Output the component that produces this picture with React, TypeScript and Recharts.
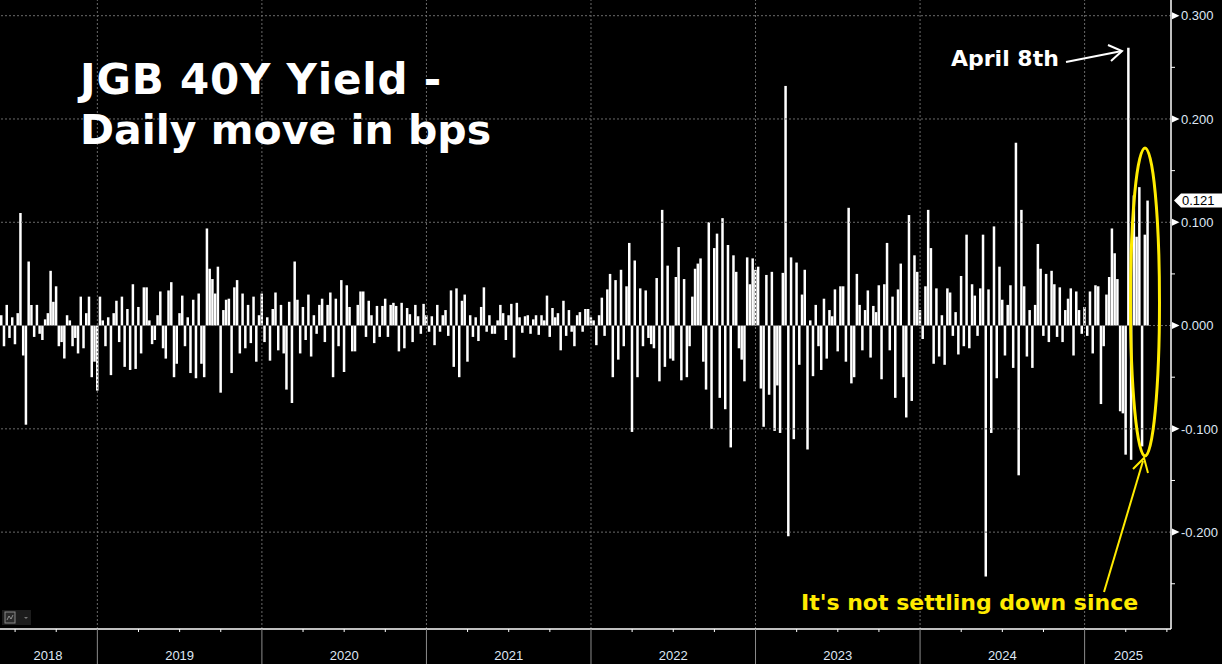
import React from 'react';
import { BarChart, Bar, XAxis, YAxis, ReferenceLine } from 'recharts';

// Daily move of the JGB 40Y yield (~5 samples per month)
const y2018 = [0.01, -0.02, 0.02, -0.012, 0.008, -0.018, 0.012, 0.109, -0.029, -0.096, 0.062, 0.02, -0.011, 0.02, -0.008, -0.014, 0.006, 0.012, 0.053, 0.023, 0.038, -0.02, -0.016, -0.032, 0.01, 0.005, -0.02, -0.012, -0.027, 0.028, -0.022, 0.012, 0.028, -0.05, -0.035];
const y2019 = [-0.063, 0.028, 0.005, -0.02, 0.008, -0.048, 0.012, 0.024, -0.016, 0.028, -0.04, 0.016, -0.043, 0.04, -0.042, 0.018, -0.027, 0.037, 0.037, 0.005, -0.018, -0.014, 0.01, 0.033, -0.022, -0.032, 0.034, 0.042, -0.05, -0.037, 0.012, 0.029, -0.02, 0.008, -0.046, 0.025, -0.051, 0.031, -0.037, -0.05, 0.094, 0.055, 0.045, 0.031, 0.057, -0.065, 0.015, 0.025, 0.026, -0.046, 0.037, 0.044, -0.027, 0.031, -0.022, 0.02, -0.017, 0.028, -0.035, 0.01];
const y2020 = [0.031, -0.016, 0.008, -0.034, 0.016, 0.032, -0.024, 0.02, -0.027, -0.062, 0.023, -0.075, 0.062, 0.025, -0.027, 0.018, -0.014, 0.03, -0.03, 0.01, -0.008, 0.02, 0.026, -0.016, 0.02, 0.032, -0.05, 0.026, -0.02, 0.044, -0.045, 0.039, 0.018, -0.025, -0.025, 0.02, 0.033, 0.033, -0.011, 0.024, 0.01, -0.017, 0.019, -0.011, 0.019, 0.026, -0.011, 0.02, 0.022, 0.019, -0.025, 0.022, -0.022, 0.017, 0.011, -0.016, 0.02, 0.009, -0.008, 0.021];
const y2021 = [0.01, -0.006, 0.009, -0.019, 0.02, -0.006, 0.01, 0.015, -0.01, 0.034, -0.04, 0.036, -0.05, 0.024, 0.03, -0.035, 0.01, -0.011, 0.008, -0.015, 0.018, 0.037, -0.006, 0.01, -0.008, -0.008, 0.005, 0.02, 0.012, -0.014, 0.01, 0.021, -0.031, 0.022, 0.008, -0.007, 0.009, 0.01, -0.008, 0.006, 0.01, -0.009, 0.01, 0.005, 0.029, -0.011, 0.017, 0.008, 0.012, -0.024, 0.024, -0.01, 0.015, -0.006, -0.02, 0.01, 0.013, -0.006, 0.016, 0.016];
const y2022 = [0.008, 0.005, -0.019, 0.01, 0.027, -0.01, 0.035, 0.05, -0.05, 0.044, -0.033, 0.054, -0.02, 0.038, 0.08, -0.103, 0.063, -0.05, 0.036, -0.02, 0.034, -0.012, -0.018, -0.022, 0.046, -0.054, 0.112, -0.04, 0.058, -0.032, -0.034, 0.047, 0.076, -0.053, 0.045, -0.05, -0.02, 0.028, 0.055, 0.06, 0.065, -0.035, -0.062, 0.1, -0.1, 0.075, 0.089, -0.07, 0.104, -0.081, 0.078, -0.118, 0.068, 0.052, -0.022, -0.033, -0.054, 0.066, 0.04, 0.065];
const y2023 = [0.054, 0.057, -0.061, -0.098, 0.049, -0.067, 0.052, -0.102, -0.058, -0.104, 0.051, 0.232, -0.204, 0.066, -0.11, 0.061, -0.038, 0.03, 0.054, -0.12, 0.005, -0.049, 0.02, -0.02, -0.043, 0.026, -0.032, 0.015, 0.009, 0.035, -0.025, 0.038, 0.038, -0.035, 0.114, -0.056, -0.05, 0.05, 0.02, -0.024, 0.015, 0.034, -0.031, 0.019, 0.013, 0.039, -0.052, 0.04, 0.08, -0.024, 0.028, -0.07, 0.035, 0.06, -0.05, -0.089, 0.107, -0.073, 0.068, 0.052];
const y2024 = [0.015, -0.013, 0.038, 0.112, 0.075, -0.037, 0.036, -0.03, 0.01, -0.038, 0.036, 0.032, -0.01, 0.013, -0.028, 0.048, -0.02, 0.088, -0.022, 0.04, 0.029, -0.01, 0.036, 0.088, -0.243, 0.035, -0.104, 0.096, -0.051, 0.057, 0.025, -0.029, 0.02, 0.039, -0.041, 0.177, -0.145, 0.112, 0.038, -0.03, 0.015, -0.041, 0.02, 0.079, 0.055, -0.01, 0.05, -0.016, 0.053, 0.04, -0.011, 0.037, -0.016, 0.015, 0.026, 0.036, -0.029, 0.033, 0.015, -0.008];
const y2025 = [0.018, -0.01, 0.033, -0.027, 0.039, 0.038, -0.076, -0.02, 0.03, 0.047, 0.094, 0.07, 0.045, -0.083, -0.085, -0.125, 0.269, -0.13, 0.126, 0.086, 0.134, -0.117, 0.088, 0.121];

const years = [2018, 2019, 2020, 2021, 2022, 2023, 2024, 2025];
const yearSeries = [y2018, y2019, y2020, y2021, y2022, y2023, y2024, y2025];
const yearFirstMonth = [6, 1, 1, 1, 1, 1, 1, 1];
const emptySlotsAfterLast = 8; // axis runs on to mid-July 2025
const samplesPerMonth = 5;

const yTicks = [-0.25, -0.2, -0.15, -0.1, -0.05, 0, 0.05, 0.1, 0.15, 0.2, 0.25, 0.3];
const yGrid = [-0.2, -0.1, 0, 0.1, 0.2, 0.3];
const yDomain = [-0.2938, 0.3152];
const lastValue = 0.121;

const rows: { d: string; v: number | null }[] = [];
const yearLabelCats = new Map<string, string>();
const yearStartCats: string[] = [];
years.forEach((yr, i) => {
  const vals = yearSeries[i];
  const total = i === years.length - 1 ? vals.length + emptySlotsAfterLast : vals.length;
  const startIdx = rows.length;
  for (let k = 0; k < total; k++) {
    const m = yearFirstMonth[i] + Math.floor(k / samplesPerMonth);
    const d = `${yr}-${String(m).padStart(2, '0')}-${k % samplesPerMonth}`;
    rows.push({ d, v: k < vals.length ? vals[k] : null });
  }
  yearLabelCats.set(rows[startIdx + Math.floor(total / 2)].d, String(yr));
  if (yearFirstMonth[i] === 1) yearStartCats.push(`${yr}-01-0`);
});

const axisText = '#dfe7f4';
const gridColor = '#6a6a6a';

const XTick = (props: any) => {
  const { x, y, payload } = props;
  const key: string = payload.value;
  const parts = key.split('-');
  const m = Number(parts[1]);
  const k = Number(parts[2]);
  const label = yearLabelCats.get(key);
  return (
    <g>
      {k === 0 && m === 1 && <line x1={x} x2={x} y1={y} y2={y + 36} stroke="#8c8c8c" strokeWidth={1} />}
      {k === 0 && m !== 1 && (m - 1) % 3 === 0 && <line x1={x} x2={x} y1={y} y2={y + 3} stroke="#ffffff" strokeWidth={1} />}
      {label && (
        <text x={x} y={y + 31} textAnchor="middle" fill={axisText} fontSize={13} fontFamily="'Liberation Sans', Arial, sans-serif">
          {label}
        </text>
      )}
    </g>
  );
};

const YTick = (props: any) => {
  const { x, y, payload } = props;
  const v: number = payload.value;
  const major = Math.abs(v * 10 - Math.round(v * 10)) < 1e-6;
  if (!major) return <line x1={x} x2={x + 4} y1={y} y2={y} stroke="#ffffff" strokeWidth={1} />;
  return (
    <g>
      <polygon points={`${x + 1},${y - 3.5} ${x + 8.5},${y} ${x + 1},${y + 3.5}`} fill="#ffffff" />
      <text x={x + 10} y={y} dy="0.36em" fill={axisText} fontSize={13} fontFamily="'Liberation Sans', Arial, sans-serif">
        {v.toFixed(3)}
      </text>
    </g>
  );
};

const LastLabel = (props: any) => {
  const vb = props.viewBox || {};
  const rx = vb.x + vb.width;
  const cy = vb.y;
  return (
    <g>
      <polygon points={`${rx + 3},${cy} ${rx + 10},${cy - 7} ${rx + 51},${cy - 7} ${rx + 51},${cy + 7} ${rx + 10},${cy + 7}`} fill="#ffffff" />
      <text x={rx + 11} y={cy} dy="0.36em" fill="#000000" fontSize={13} fontFamily="'Liberation Sans', Arial, sans-serif">
        {lastValue.toFixed(3)}
      </text>
    </g>
  );
};

export default function App() {
  const W = 1222;
  const H = 664;
  const bold = "'DejaVu Sans', Verdana, sans-serif";
  return (
    <div style={{ position: 'absolute', left: 0, top: 0, width: W, height: H, background: '#000000', overflow: 'hidden' }}>
      <BarChart width={W} height={H} data={rows} margin={{ top: 0, right: 0, bottom: 0, left: 0 }} barCategoryGap={0}>
        {yGrid.map((g) => (
          <ReferenceLine key={'h' + g} y={g} stroke={gridColor} strokeDasharray="2 2" />
        ))}
        {yearStartCats.map((c) => (
          <ReferenceLine key={'v' + c} x={c} stroke={gridColor} strokeDasharray="2 2" />
        ))}
        <XAxis
          dataKey="d"
          type="category"
          interval={0}
          height={35}
          tickLine={false}
          tickSize={0}
          tickMargin={0}
          axisLine={{ stroke: '#ffffff', strokeWidth: 1.5 }}
          tick={<XTick />}
        />
        <YAxis
          orientation="right"
          type="number"
          domain={yDomain}
          allowDataOverflow
          ticks={yTicks}
          width={51}
          tickLine={false}
          tickSize={0}
          tickMargin={0}
          axisLine={{ stroke: '#ffffff', strokeWidth: 1.5 }}
          tick={<YTick />}
        />
        <ReferenceLine y={lastValue} stroke="none" label={(p: any) => <LastLabel {...p} />} />
        <Bar dataKey="v" fill="#ffffff" barSize={2.5} isAnimationActive={false} />
      </BarChart>
      <svg width={W} height={H} style={{ position: 'absolute', left: 0, top: 0, pointerEvents: 'none' }}>
        <text x={80} y={94} fill="#ffffff" fontSize={42} fontWeight="bold" fontFamily={bold} letterSpacing={0.8}>JGB 40Y Yield -</text>
        <text x={80} y={144} fill="#ffffff" fontSize={41} fontWeight="bold" fontFamily={bold}>Daily move in bps</text>

        <text x={951} y={66} fill="#ffffff" fontSize={22} fontWeight="bold" fontFamily={bold}>April 8th</text>
        <line x1={1066} y1={62} x2={1122} y2={51} stroke="#ffffff" strokeWidth={2} />
        <polyline points="1108,45 1122,51 1111,61" fill="none" stroke="#ffffff" strokeWidth={2} />

        <ellipse cx={1145} cy={302} rx={14.5} ry={154} fill="none" stroke="#ffeb00" strokeWidth={3} />
        <line x1={1104} y1={592} x2={1143} y2={461} stroke="#ffeb00" strokeWidth={2} />
        <polyline points="1133,469 1144,458 1148,473" fill="none" stroke="#ffeb00" strokeWidth={2} />
        <text x={801} y={610} fill="#ffeb00" fontSize={22} fontWeight="bold" fontFamily={bold}>It's not settling down since</text>

        <rect x={2} y={610} width={29} height={15} fill="#1c1c1c" />
        <rect x={5} y={612} width={10} height={11} fill="#2a2a2a" stroke="#8a8a8a" strokeWidth={1} />
        <polyline points="7,620 9,616 11,619 13,615" fill="none" stroke="#aaaaaa" strokeWidth={0.8} />
        <polygon points="24,617 28,617 26,619" fill="#777777" />
      </svg>
    </div>
  );
}
